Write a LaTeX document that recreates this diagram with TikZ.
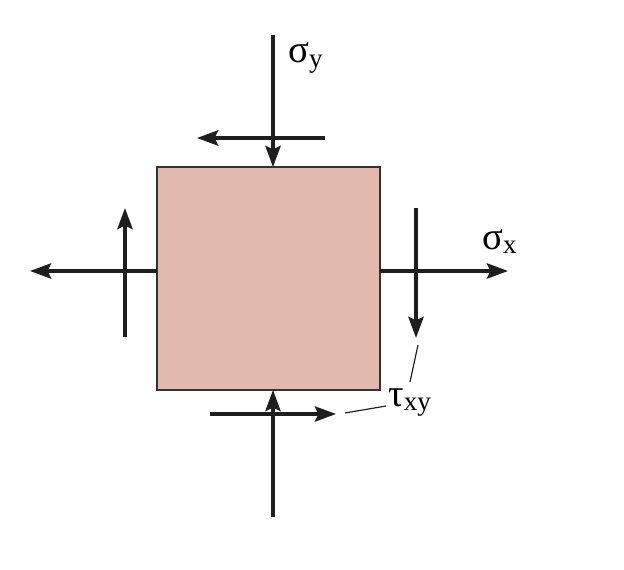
\documentclass[tikz,border=0pt]{standalone}
\usepackage{fontspec}
\setmainfont{Liberation Serif}
\usetikzlibrary{arrows.meta}
\definecolor{blockcolor}{HTML}{E2BAAD}
\definecolor{edgecolor}{HTML}{333333}
\definecolor{forcecolor}{HTML}{1E1E1E}
\tikzset{
  force/.style={forcecolor,line width=3pt,-{Stealth[length=18pt,width=13pt,inset=3pt]}},
  leader/.style={forcecolor,line width=1pt},
  stresslabel/.style={anchor=base west,inner sep=0pt,font=\fontsize{33}{38}\selectfont}
}
\begin{document}
\begin{tikzpicture}[x=0.03cm,y=-0.03cm]
  \useasboundingbox (0,0) rectangle (624,570);
  % element
  \draw [fill=blockcolor,draw=edgecolor,line width=1.8pt] (157,167) rectangle (380,390);
  \coordinate (top) at (273,167);
  \coordinate (bottom) at (273,390);
  \coordinate (left) at (157,271);
  \coordinate (right) at (380,271);
  % normal stresses
  \coordinate (sy0) at (273,35);
  \coordinate (sy1) at (273,517);
  \coordinate (sx0) at (30,271);
  \coordinate (sx1) at (508,271);
  \draw [force] (sy0) -- (top);
  \draw [force] (sy1) -- (bottom);
  \draw [force] (left) -- (sx0);
  \draw [force] (right) -- (sx1);
  % shear stresses
  \coordinate (ta0) at (325,138);  \coordinate (ta1) at (197,138);
  \coordinate (tb0) at (210,414);  \coordinate (tb1) at (336,414);
  \coordinate (tc0) at (125,337);  \coordinate (tc1) at (125,208);
  \coordinate (td0) at (416,208);  \coordinate (td1) at (416,338);
  \draw [force] (ta0) -- (ta1);
  \draw [force] (tb0) -- (tb1);
  \draw [force] (tc0) -- (tc1);
  \draw [force] (td0) -- (td1);
  % labels
  \node [stresslabel] (sigy) at (288,63) {σ\textsubscript{y}};
  \node [stresslabel] (sigx) at (482,249) {σ\textsubscript{x}};
  \node [stresslabel] (tauxy) at (388,406) {τ\textsubscript{xy}};
  \coordinate (la) at (345,413);
  \coordinate (lb) at (418,345);
  \draw [leader] (la) -- (386,406);
  \draw [leader] (lb) -- (410,382);
\end{tikzpicture}
\end{document}
